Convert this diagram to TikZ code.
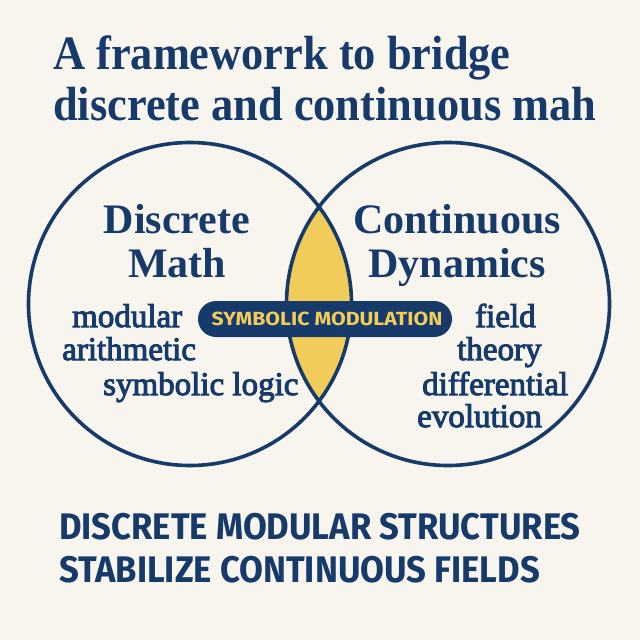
\documentclass[tikz,border=0pt]{standalone}
\usepackage{fontspec}
\setmainfont{Liberation Serif}
\newfontfamily\titlefont[FakeStretch=0.925]{Liberation Serif Bold}
\newfontfamily\headfont{Liberation Serif Bold}
\newfontfamily\serifmed[FakeBold=3]{Liberation Serif}
\newfontfamily\footfont[FakeStretch=0.935]{Fira Sans Bold}
\newfontfamily\pillfont[FakeStretch=1.12]{Fira Sans Bold}
\definecolor{navy}{HTML}{163A6A}
\definecolor{gold}{HTML}{F2CC5A}
\definecolor{paper}{HTML}{F8F5EE}
\tikzset{
  ring/.style={draw=navy, line width=3.6pt},
  title/.style={anchor=base west, text=navy, inner sep=0pt, font=\titlefont\fontsize{48}{50}\selectfont},
  heading/.style={anchor=base, text=navy, inner sep=0pt, font=\headfont\fontsize{42}{44}\selectfont},
  item/.style={anchor=base west, text=navy, inner sep=0pt, font=\serifmed\fontsize{33}{35}\selectfont},
  pill/.style={fill=navy, rounded corners=18pt, minimum width=254pt, minimum height=36pt, inner sep=0pt},
  pilltext/.style={text=gold, inner sep=0pt, font=\pillfont\fontsize{19}{20}\selectfont},
  footer/.style={anchor=base west, text=navy, inner sep=0pt, font=\footfont\fontsize{37}{39}\selectfont}
}
\begin{document}
\begin{tikzpicture}[x=1pt, y=-1pt]
\fill[paper] (0,0) rectangle (640,640);
\useasboundingbox (0,0) rectangle (640,640);
% lens
\begin{scope}
  \clip (190,304) circle (161.5pt);
  \fill[gold] (448,304) circle (161.5pt);
\end{scope}
\node[ring, circle, minimum size=323pt, inner sep=0pt] (L) at (190,304) {};
\node[ring, circle, minimum size=323pt, inner sep=0pt] (R) at (448,304) {};
% title
\node[title] (t1) at (53,69) {A frameworrk to bridge};
\node[title] (t2) at (53,120) {discrete and continuous mah};
% headings
\node[heading] (h1) at (177,233) {Discrete};
\node[heading] (h2) at (177,277) {Math};
\node[heading] (h3) at (457,233) {Continuous};
\node[heading] (h4) at (457,277) {Dynamics};
% left items
\node[item] (a1) at (72,327) {modular};
\node[item] (a2) at (62,360) {arithmetic};
\node[item] (a3) at (103,395) {symbolic logic};
% right items
\node[item] (b1) at (475,327) {field};
\node[item] (b2) at (457,360) {theory};
\node[item] (b3) at (422,395) {differential};
\node[item] (b4) at (417,427) {evolution};
% pill
\node[pill] (p) at (325,319) {};
\node[pilltext] (pt) at (327,319) {SYMBOLIC MODULATION};
% footer
\node[footer] (f1) at (59,539) {DISCRETE MODULAR STRUCTURES};
\node[footer] (f2) at (59,582) {STABILIZE CONTINUOUS FIELDS};
\end{tikzpicture}
\end{document}
